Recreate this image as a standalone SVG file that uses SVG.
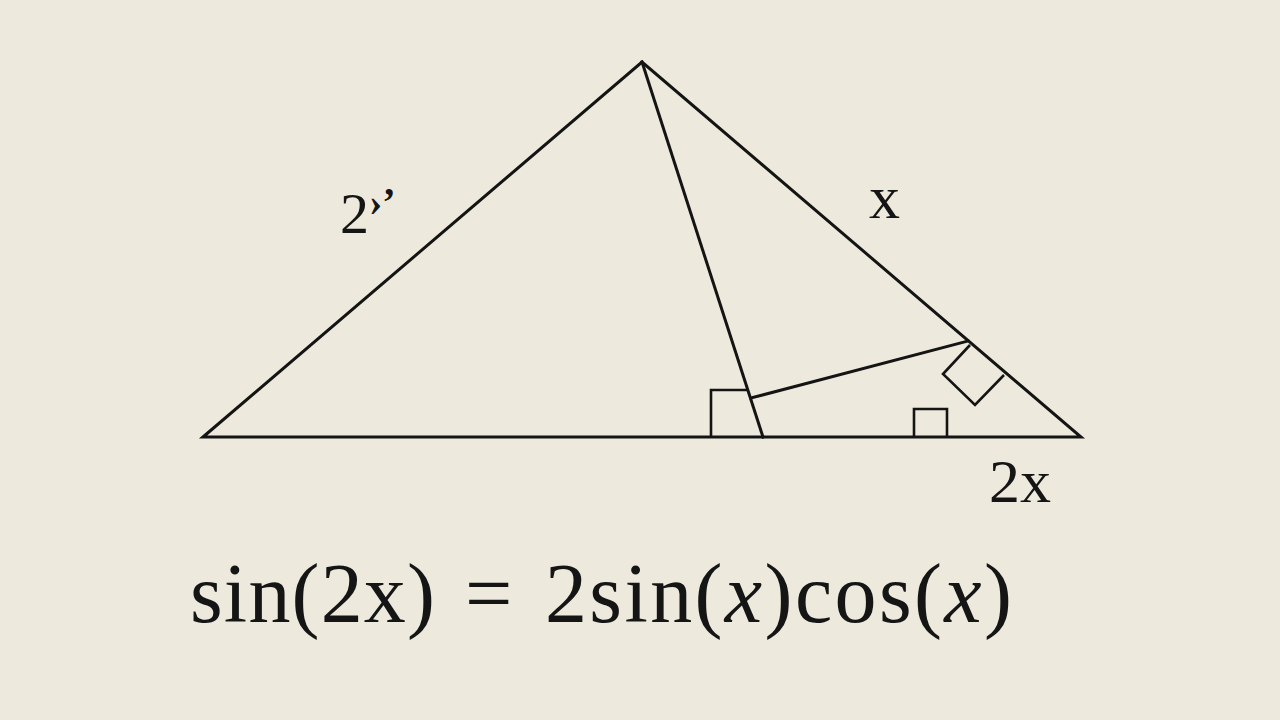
<svg xmlns="http://www.w3.org/2000/svg" width="1280" height="720" viewBox="0 0 1280 720">
<style>
.ln{fill:none;stroke:#141414;stroke-width:3;stroke-linejoin:miter;stroke-linecap:square}
.sq{fill:none;stroke:#141414;stroke-width:2.6}
.t{font-family:"Liberation Serif","Times New Roman",serif;fill:#151515}
</style>
<rect width="1280" height="720" fill="#EDEADD"/>
<g id="connectors">
<path class="ln" d="M203 437 L642 62 L1081 437 Z"/>
<path class="ln" d="M642 62 L763 437"/>
<path class="ln" d="M751 398 L968 341"/>
</g>
<g id="right-angle-marks">
<path class="sq" d="M711 437 L711 390 L748 390"/>
<path class="sq" d="M914 437 L914 409 L947 409 L947 437"/>
<path class="sq" d="M970 345 L943 374 L975 405 L1004 375"/>
</g>
<g id="labels">
<text class="t" x="340" y="233" font-size="58">2<tspan font-size="40" font-weight="bold" dy="-18">›’</tspan></text>
<text class="t" x="869" y="218" font-size="62">x</text>
<text class="t" x="989" y="502" font-size="62">2x</text>
</g>
<g id="equation">
<text class="t" x="190" y="622" font-size="84" textLength="245" lengthAdjust="spacing">sin(2x)</text>
<text class="t" x="465" y="622" font-size="84">=</text>
<text class="t" x="545" y="622" font-size="84" textLength="467" lengthAdjust="spacing">2sin(<tspan font-style="italic">x</tspan>)cos(<tspan font-style="italic">x</tspan>)</text>
</g>
</svg>
